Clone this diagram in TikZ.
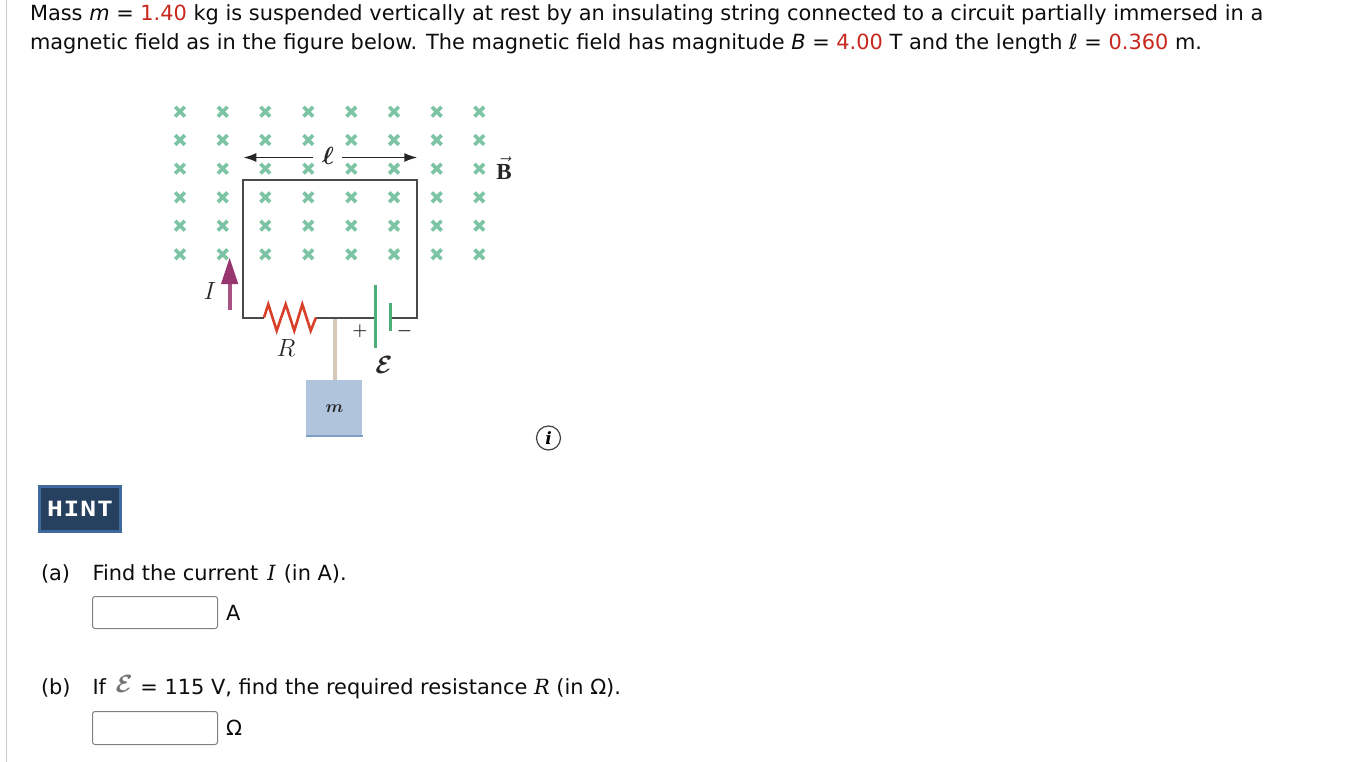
\documentclass[tikz,border=0pt]{standalone}
\usepackage{fontspec}
\setmainfont{DejaVu Sans}
\newfontfamily\serifit[ItalicFont={DejaVu Serif Italic}]{DejaVu Serif}
\newfontfamily\serifb{Liberation Serif}
\newfontfamily\hintfont[FakeStretch=1.25,LetterSpace=4]{DejaVu Sans Mono}
\usetikzlibrary{arrows.meta}
\definecolor{fieldgreen}{HTML}{7CC4A4}
\definecolor{redtxt}{HTML}{C8281E}
\definecolor{wire}{HTML}{4A4A4A}
\definecolor{magenta2}{HTML}{96356E}
\definecolor{resred}{HTML}{D8402A}
\definecolor{batgreen}{HTML}{4CAF78}
\definecolor{stringc}{HTML}{D8C8B8}
\definecolor{blockc}{HTML}{B0C4DC}
\definecolor{blockd}{HTML}{7FA0C4}
\definecolor{hintfill}{HTML}{26405F}
\definecolor{hintline}{HTML}{40699E}
\newcommand{\rv}[1]{\textcolor{redtxt}{#1}}
\newcommand{\qi}[1]{{\itshape #1}}
\newcommand{\si}[1]{{\serifit\itshape #1}}
\tikzset{
  x=1pt,y=-1pt,
  txt/.style={anchor=base west,inner sep=0pt,outer sep=0pt,font=\fontsize{20.9}{24}\selectfont,text=black!95},
  fig/.style={inner sep=0pt,outer sep=0pt,text=black!85},
  wirepath/.style={draw=wire,line width=2pt,line join=miter},
  inputbox/.style={draw=black!50,line width=1pt,rounded corners=2.5pt,fill=white},
}
\begin{document}
\begin{tikzpicture}
\useasboundingbox (0,0) rectangle (1370,762);
\fill[white] (0,0) rectangle (1370,762);
\draw[black!20,line width=1.8pt] (6.5,0) -- (6.5,762);

% question
\node[txt] (l1) at (30,21) {Mass \qi{m} = \rv{1.40} kg is suspended vertically at rest by an insulating string connected to a circuit partially immersed in a};
\node[txt] (l2) at (30,50) {magnetic field as in the figure below. The magnetic field has magnitude \qi{B} = \rv{4.00} T and the length ℓ = \rv{0.360} m.};

% field
\foreach \c/\xx in {1/180,2/222.7,3/265.3,4/308.3,5/351.3,6/394,7/436.7,8/479.3}
  \foreach \r/\yy in {1/111.7,2/140,3/168.7,4/197.3,5/225.7,6/254.3}{
    \coordinate (f\c\r) at (\xx,\yy);
    \draw[fieldgreen,line width=3.6pt] ([shift={(-4.8,-4.8)}]f\c\r) -- ([shift={(4.8,4.8)}]f\c\r);
    \draw[fieldgreen,line width=3.6pt] ([shift={(-4.8,4.8)}]f\c\r) -- ([shift={(4.8,-4.8)}]f\c\r);
  }

% circuit
\coordinate (tl) at (243.3,180);
\coordinate (tr) at (417.3,180);
\coordinate (br) at (417.3,317.5);
\coordinate (bl) at (243.3,317.5);
\coordinate (r1) at (264,317.5);
\coordinate (r2) at (316,317.5);
\coordinate (b1) at (375.5,317.5);
\coordinate (b2) at (390,317.5);
\draw[wirepath] (r1) -- (bl) -- (tl) -- (tr) -- (br) -- (b2);
\draw[wirepath] (r2) -- (b1);
\draw[resred,line width=2.6pt,line join=miter] (r1) -- (268.3,304.3) -- (276.7,330.7) -- (285.7,304.3) -- (294.3,330.7) -- (302.3,304.3) -- (310.7,330.7) -- (r2);
\draw[batgreen,line width=3.2pt] (375.5,285) -- (375.5,348);
\draw[batgreen,line width=3pt] (390,303) -- (390,331);
\draw[stringc,line width=4pt] (335.3,318.5) -- (335.3,380);

% block
\node[fill=blockc,minimum width=56pt,minimum height=56pt,inner sep=0pt] (block) at (334.3,408) {};
\draw[blockd,line width=1.8pt] (block.south west) -- (block.south east);
\node[fig,font=\fontsize{19}{19}\selectfont\boldmath] (mlabel) at (334.5,409) {$m$};

% current arrow
\coordinate (i1) at (229.6,310);
\coordinate (i2) at (229.6,283);
\draw[magenta2!85,line width=4pt] (i1) -- (i2);
\fill[magenta2] (229.6,258) -- (238.3,284) -- (221,284) -- cycle;

% length arrows
\node[fig,font=\fontsize{23}{23}\selectfont\boldmath] (ell) at (328,156) {$\ell$};
\coordinate (la) at (243.3,157.5);
\coordinate (lb) at (417.3,157.5);
\draw[black!85,line width=1.6pt,-{Latex[length=13pt,width=9pt]}] (313,157.5) -- (la);
\draw[black!85,line width=1.6pt,-{Latex[length=13pt,width=9pt]}] (342,157.5) -- (lb);

% labels
\node[fig,font=\fontsize{23}{23}\selectfont] (B) at (504,168) {$\vec{\hbox{\serifb\bfseries B}}$};
\node[fig,font=\fontsize{23}{23}\selectfont] (I) at (210,291) {$I$};
\node[fig,font=\fontsize{23}{23}\selectfont] (R) at (286,348) {$R$};
\node[fig,font=\fontsize{18.5}{19}\selectfont\boldmath] (plus) at (360,331) {$+$};
\node[fig,font=\fontsize{18.5}{19}\selectfont\boldmath] (minus) at (404.5,331) {$-$};
\node[fig,font=\fontsize{25}{25}\selectfont\boldmath] (emf) at (384,365) {$\mathcal{E}$};

% info
\node[circle,draw=black!75,line width=1.2pt,minimum size=24pt,inner sep=0pt,font=\fontsize{17}{17}\selectfont\bfseries] (info) at (548.5,438) {\si{i}};

% hint
\node[fill=hintfill,draw=hintline,line width=3.4pt,minimum width=80.6pt,minimum height=44.6pt,inner sep=0pt,text=white,font=\fontsize{21}{21}\selectfont\hintfont\bfseries] (hint) at (80,509) {HINT};

% parts
\node[txt] (pa) at (41,580) {(a)};
\node[txt] (qa) at (92.5,580) {Find the current\hspace{2.5pt} \si{I}\hspace{1.5pt} (in A).};
\node[inputbox,minimum width=125pt,minimum height=32pt,inner sep=0pt] (boxa) at (155,612.5) {};
\node[txt] (ua) at (226,620) {A};
\node[txt] (pb) at (41,694) {(b)};
\node[txt] (qb) at (92.5,694) {If\hspace{3pt} \raisebox{2pt}{\textcolor{black!55}{\fontsize{24}{24}\selectfont\boldmath$\mathcal{E}$}}\hspace{1pt} = 115 V, find the required resistance \si{R} (in Ω).};
\node[inputbox,minimum width=125pt,minimum height=33pt,inner sep=0pt] (boxb) at (155,728) {};
\node[txt] (ub) at (226,735) {Ω};
\end{tikzpicture}
\end{document}
